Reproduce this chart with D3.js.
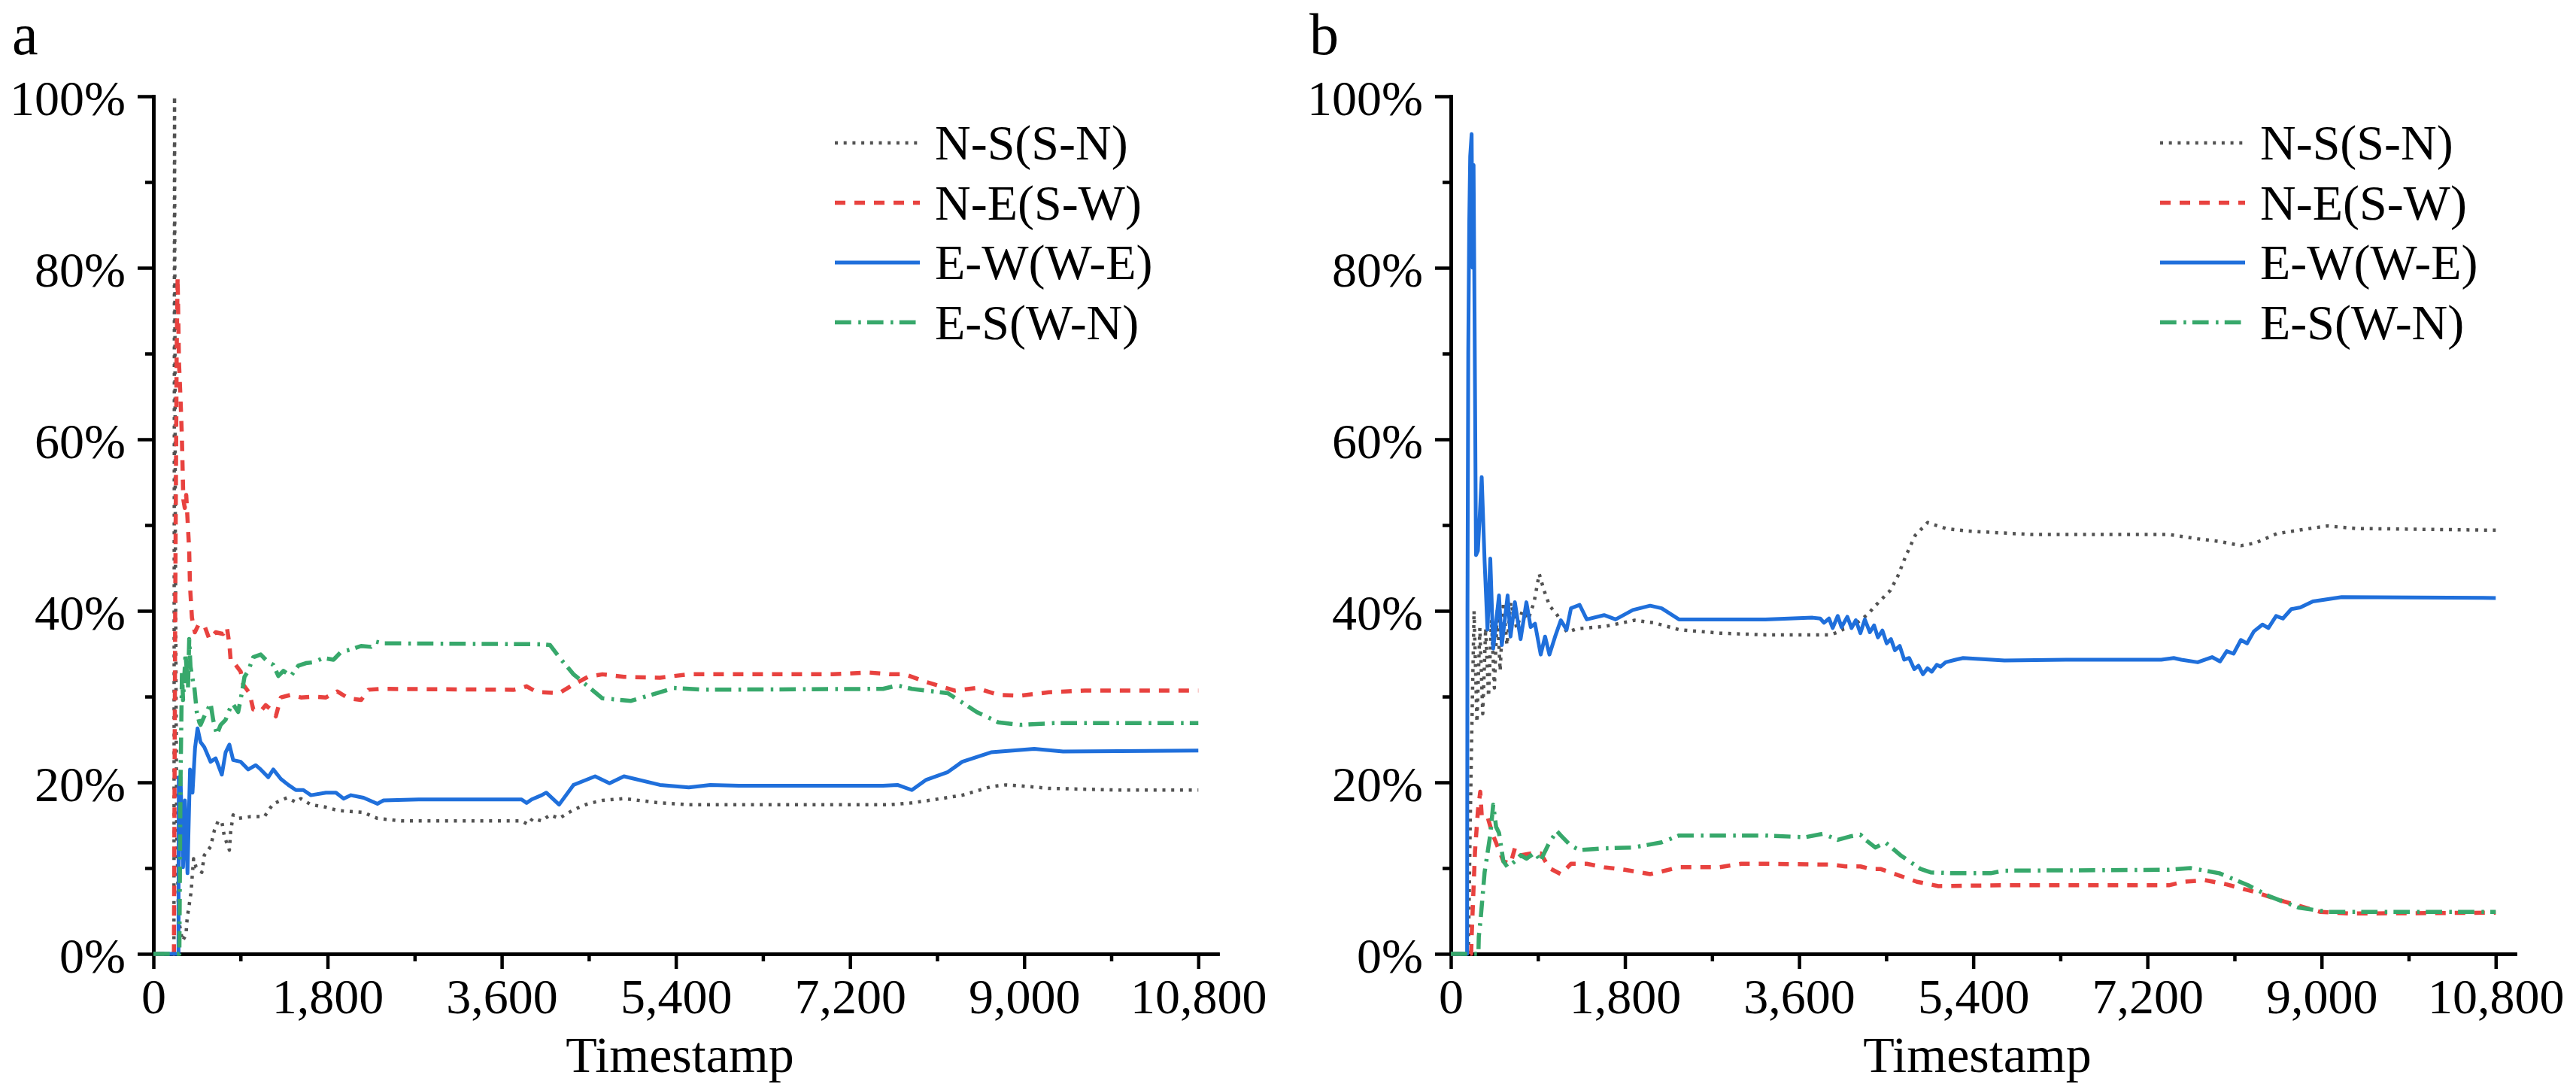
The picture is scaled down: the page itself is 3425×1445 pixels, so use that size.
<!DOCTYPE html>
<html>
<head>
<meta charset="utf-8">
<script src="https://cdn.jsdelivr.net/npm/d3@7"></script>
<style>
  body { margin: 0; background: #fff; }
  svg text { font-family: "Liberation Serif", "Times New Roman", serif; }
</style>
</head>
<body>
<svg id="chart" width="3425" height="1445"></svg>
<script>
// legend labels (same order in both panels)
const seriesNames = ["N-S(S-N)", "N-E(S-W)", "E-W(W-E)", "E-S(W-N)"];
const xTicks = [0, 1800, 3600, 5400, 7200, 9000, 10800];
const xMinor = [900, 2700, 4500, 6300, 8100, 9900];
const yTicks = [0, 20, 40, 60, 80, 100];
const yMinor = [10, 30, 50, 70, 90];

// panel a, [timestamp, share %]
const aNS = [[0,0],[212,0],[218,100],[226,50],[240,15],[260,4],[300,1.5],[336,2.2],[349,4.2],[363,5.2],[389,7.2],[402,9.2],[415,11.1],[441,10.1],[500,9.5],[526,11.5],[591,12.5],[630,14.4],[669,15.5],[707,15.4],[733,13.7],[785,12.1],[798,14.2],[824,16.2],[876,15.8],[1006,16.0],[1148,16.0],[1187,16.7],[1239,17.5],[1381,18.2],[1472,17.7],[1524,18.1],[1628,17.4],[1783,17.1],[1912,16.7],[2042,16.6],[2172,16.5],[2250,16.1],[2315,15.8],[2560,15.5],[3805,15.5],[3870,15.1],[3922,15.8],[4012,15.5],[4100,16.2],[4193,15.8],[4342,16.8],[4490,17.5],[4640,17.9],[4863,18.1],[5090,17.8],[5235,17.6],[5533,17.4],[7616,17.4],[7839,17.6],[8137,18.1],[8360,18.5],[8509,19.0],[8660,19.5],[8806,19.7],[8955,19.6],[9253,19.3],[9997,19.1],[10800,19.1]];
const aNE = [[0,0],[212,0],[225,40],[240,70],[250,78.9],[264,69],[280,64.7],[294,60.3],[309,53],[324,52],[339,53.5],[369,47.2],[378,42.9],[398,39.2],[428,37.5],[467,38.4],[526,38.3],[578,36.7],[643,37.5],[720,37.3],[759,38.1],[785,36.1],[800,34.0],[850,33.7],[902,32.9],[928,31.4],[993,30.4],[1032,28.5],[1109,28.3],[1160,29.0],[1213,28.5],[1265,27.7],[1317,29.9],[1420,30.2],[1524,29.9],[1654,30.0],[1783,29.9],[1900,30.6],[2016,29.8],[2146,29.6],[2224,30.8],[2353,30.9],[3727,30.8],[3805,31.0],[3857,31.2],[3935,30.7],[4012,30.5],[4193,30.4],[4342,31.4],[4490,32.3],[4640,32.6],[4863,32.3],[5235,32.2],[5533,32.6],[7020,32.6],[7400,32.8],[7616,32.6],[7765,32.6],[7988,31.7],[8285,30.7],[8509,31.0],[8732,30.2],[8955,30.1],[9253,30.5],[9625,30.7],[10800,30.7]];
const aEW = [[0,0],[259,0],[262,20.6],[280,20.6],[306,10.1],[326,17.9],[352,9.4],[378,21.5],[404,18.8],[430,24],[456,26.3],[487,24.7],[526,24.1],[591,22.4],[643,22.8],[707,20.9],[746,23.5],[785,24.4],[824,22.6],[902,22.4],[980,21.5],[1057,22.0],[1109,21.5],[1187,20.6],[1239,21.5],[1317,20.4],[1394,19.7],[1472,19.1],[1550,19.1],[1628,18.5],[1783,18.8],[1887,18.8],[1965,18.1],[2042,18.5],[2172,18.2],[2315,17.5],[2379,17.9],[2742,18.0],[3805,18.0],[3857,17.6],[3909,18.0],[4012,18.5],[4060,18.8],[4193,17.4],[4342,19.7],[4565,20.7],[4714,19.9],[4863,20.7],[5235,19.7],[5533,19.4],[5756,19.7],[6053,19.6],[7541,19.6],[7690,19.7],[7839,19.1],[7988,20.3],[8211,21.2],[8360,22.4],[8658,23.5],[9104,23.9],[9402,23.6],[10800,23.7]];
const aES = [[0,0],[268,0],[280,20],[295,33],[306,29.6],[332,35],[357,31],[370,36.7],[383,33.5],[410,31.7],[423,31.1],[448,28.2],[474,27.0],[487,26.7],[526,27.7],[591,29.2],[617,27.3],[656,25.6],[695,26.7],[746,27.3],[798,28.8],[824,29.1],[876,28.2],[915,30.5],[941,32.3],[980,33.0],[1032,34.6],[1109,34.9],[1187,34.0],[1239,33.7],[1291,32.4],[1343,33.0],[1420,32.4],[1498,33.6],[1576,33.9],[1654,34.0],[1757,34.5],[1861,34.3],[1939,35.2],[2042,35.5],[2146,35.9],[2250,35.8],[2302,36.4],[2379,36.2],[2561,36.2],[4012,36.1],[4100,36.0],[4200,34.5],[4342,32.6],[4640,29.8],[4937,29.5],[5380,31.0],[5700,30.8],[7541,30.9],[7690,31.3],[7839,30.9],[8211,30.4],[8509,28.2],[8732,27.0],[8955,26.7],[9300,26.9],[10800,26.9]];

// panel b, [timestamp, share %]
const bNS = [[0,0],[180,0],[185,3],[200,15],[215,25],[240,40],[270,27],[300,38],[330,28],[360,38],[390,30],[420,39],[450,31],[480,40],[510,33],[543,41],[580,36],[620,41],[680,38],[740,40],[800,39],[860,41],[914,44.3],[960,42.5],[1020,40.6],[1100,39.5],[1200,37.5],[1300,37.9],[1600,38.2],[1900,38.9],[2100,38.6],[2360,37.8],[2780,37.4],[3250,37.2],[3921,37.2],[4000,37.5],[4064,37.9],[4129,38.0],[4233,38.9],[4311,39.6],[4388,40.6],[4466,41.5],[4544,42.4],[4622,44.1],[4699,46.3],[4800,48.8],[4929,50.3],[5115,49.6],[5339,49.3],[6000,48.9],[7422,48.9],[7719,48.4],[7943,48.1],[8166,47.6],[8314,47.9],[8538,49.0],[8761,49.4],[9058,49.9],[9356,49.6],[10800,49.4]];
const bNE = [[0,0],[210,0],[215,2],[250,12],[280,16.7],[304,18.9],[320,16],[379,16],[430,14],[470,12.9],[543,10.8],[617,10.5],[662,12.3],[721,11.5],[825,11.7],[929,11.7],[1019,10.0],[1137,9.3],[1242,10.5],[1405,10.5],[1584,10.1],[1800,9.8],[2060,9.3],[2179,9.6],[2358,10.1],[2774,10.1],[3000,10.5],[3250,10.5],[3947,10.4],[4077,10.2],[4233,10.2],[4336,9.9],[4440,9.9],[4544,9.5],[4818,8.4],[5041,7.9],[5700,8.0],[7422,8.0],[7570,8.4],[7793,8.6],[8017,8.1],[8314,7.2],[8612,6.1],[8984,4.9],[9281,4.7],[10800,4.8]];
const bEW = [[0,0],[168,0],[172,40],[180,70],[190,85],[200,93],[215,95.6],[225,80],[235,92],[245,74.9],[260,46.5],[280,47],[319,55.6],[349,45.8],[379,37.8],[408,46.1],[438,35.6],[498,41.8],[527,36.0],[587,41.8],[617,37.0],[662,41.0],[721,36.7],[781,41.0],[825,38.1],[870,38.5],[929,34.9],[974,37.0],[1019,34.9],[1078,37.0],[1137,38.9],[1197,37.8],[1242,40.3],[1331,40.7],[1405,39.0],[1584,39.5],[1703,39.0],[1882,40.1],[2060,40.6],[2179,40.3],[2358,39.0],[2774,39.0],[3250,39.0],[3740,39.2],[3818,39.1],[3857,38.6],[3909,39.1],[3947,38.0],[3999,39.4],[4038,38.1],[4098,39.3],[4142,38.0],[4186,38.9],[4233,37.4],[4279,39.0],[4331,37.5],[4375,38.3],[4414,36.9],[4461,37.7],[4505,36.2],[4549,36.7],[4590,35.4],[4640,35.9],[4686,34.3],[4738,34.5],[4790,33.2],[4834,33.6],[4880,32.6],[4927,33.3],[4971,32.9],[5023,33.7],[5062,33.5],[5114,34.0],[5217,34.3],[5295,34.5],[5723,34.2],[6358,34.3],[7343,34.3],[7472,34.5],[7550,34.3],[7719,34.0],[7868,34.6],[7950,34.1],[8020,35.3],[8090,35.0],[8166,36.6],[8230,36.2],[8300,37.6],[8389,38.4],[8450,38.0],[8530,39.4],[8600,39.1],[8687,40.2],[8780,40.4],[8910,41.1],[9208,41.6],[10800,41.5]];
const bES = [[0,0],[285,0],[289,2],[310,4.3],[349,9.5],[408,13.9],[438,17.4],[468,14.8],[498,14.1],[543,10.8],[587,10.1],[662,10.8],[721,11.5],[781,11.1],[870,11.8],[929,10.8],[950,11.4],[1019,13.0],[1097,14.3],[1137,13.8],[1242,12.6],[1331,12.1],[1584,12.3],[1882,12.4],[2179,13.0],[2358,13.8],[3250,13.8],[3662,13.6],[3844,14.0],[4000,13.3],[4129,13.7],[4233,13.9],[4285,13.3],[4388,12.4],[4492,13.0],[4648,11.5],[4855,9.9],[4959,9.5],[5192,9.4],[5580,9.4],[5710,9.7],[7422,9.8],[7645,10.0],[7943,9.4],[8240,8.0],[8463,6.7],[8761,5.4],[9058,4.9],[10800,4.9]];

const colors = ["#525252", "#e8423f", "#1f6fdb", "#37a86b"];
const widths = [4.5, 5.5, 5, 5.5];
const dashes = ["4,7.7", "14,12", null, "21.7,9.5,3.5,8.2"];

const svg = d3.select("#chart");

function styleAxis(g) {
    g.attr("font-size", null).attr("font-family", null);
    g.selectAll(".domain").attr("stroke", "#000").attr("stroke-width", 4.5).attr("stroke-linecap", "square");
    g.selectAll(".tick line").attr("stroke", "#000").attr("stroke-width", 4.5);
    g.selectAll(".tick text").attr("fill", "#000").style("font-size", "66px");
}

function drawPanel(letter, left, legendX, series) {
    let x = d3.scaleLinear().domain([0, 11000]).range([left, left + 1415]);
    let y = d3.scaleLinear().domain([0, 100]).range([1268, 128]);
    let g = svg.append("g");

    // axes
    let gy = g.append("g").attr("transform", `translate(${left},0)`)
        .call(d3.axisLeft(y).tickValues(yTicks).tickSize(21).tickSizeOuter(0).tickPadding(16).tickFormat(d => d + "%"));
    styleAxis(gy);
    gy.selectAll(".tick text").attr("dy", "0.37em");
    let gym = g.append("g").attr("transform", `translate(${left},0)`)
        .call(d3.axisLeft(y).tickValues(yMinor).tickSize(11).tickSizeOuter(0).tickFormat(""));
    styleAxis(gym);

    let gx = g.append("g").attr("transform", "translate(0,1268)")
        .call(d3.axisBottom(x).tickValues(xTicks).tickSize(20).tickSizeOuter(0).tickPadding(12).tickFormat(d3.format(",")));
    styleAxis(gx);
    let gxm = g.append("g").attr("transform", "translate(0,1268)")
        .call(d3.axisBottom(x).tickValues(xMinor).tickSize(10).tickSizeOuter(0).tickFormat(""));
    styleAxis(gxm);

    g.append("text").attr("x", left + 700).attr("y", 1425).attr("text-anchor", "middle")
        .style("font-size", "68px").text("Timestamp");
    g.append("text").attr("x", left - 188).attr("y", 72).style("font-size", "78px").text(letter);

    // lines
    let line = d3.line().x(d => x(d[0])).y(d => y(d[1]));
    series.forEach((s, i) => {
        g.append("path").attr("d", line(s))
            .attr("fill", "none")
            .attr("stroke", colors[i])
            .attr("stroke-width", widths[i])
            .attr("stroke-dasharray", dashes[i])
            .attr("stroke-linejoin", "round");
    });

    // legend
    seriesNames.forEach((name, i) => {
        let ly = 190 + i * 79.5;
        g.append("line").attr("x1", legendX).attr("x2", legendX + 113).attr("y1", ly).attr("y2", ly)
            .attr("stroke", colors[i]).attr("stroke-width", widths[i]).attr("stroke-dasharray", dashes[i]);
        g.append("text").attr("x", legendX + 133).attr("y", ly + 22).style("font-size", "66px").text(name);
    });
}

drawPanel("a", 204, 1110, [aNS, aNE, aEW, aES]);
drawPanel("b", 1929, 2872, [bNS, bNE, bEW, bES]);
</script>
</body>
</html>
